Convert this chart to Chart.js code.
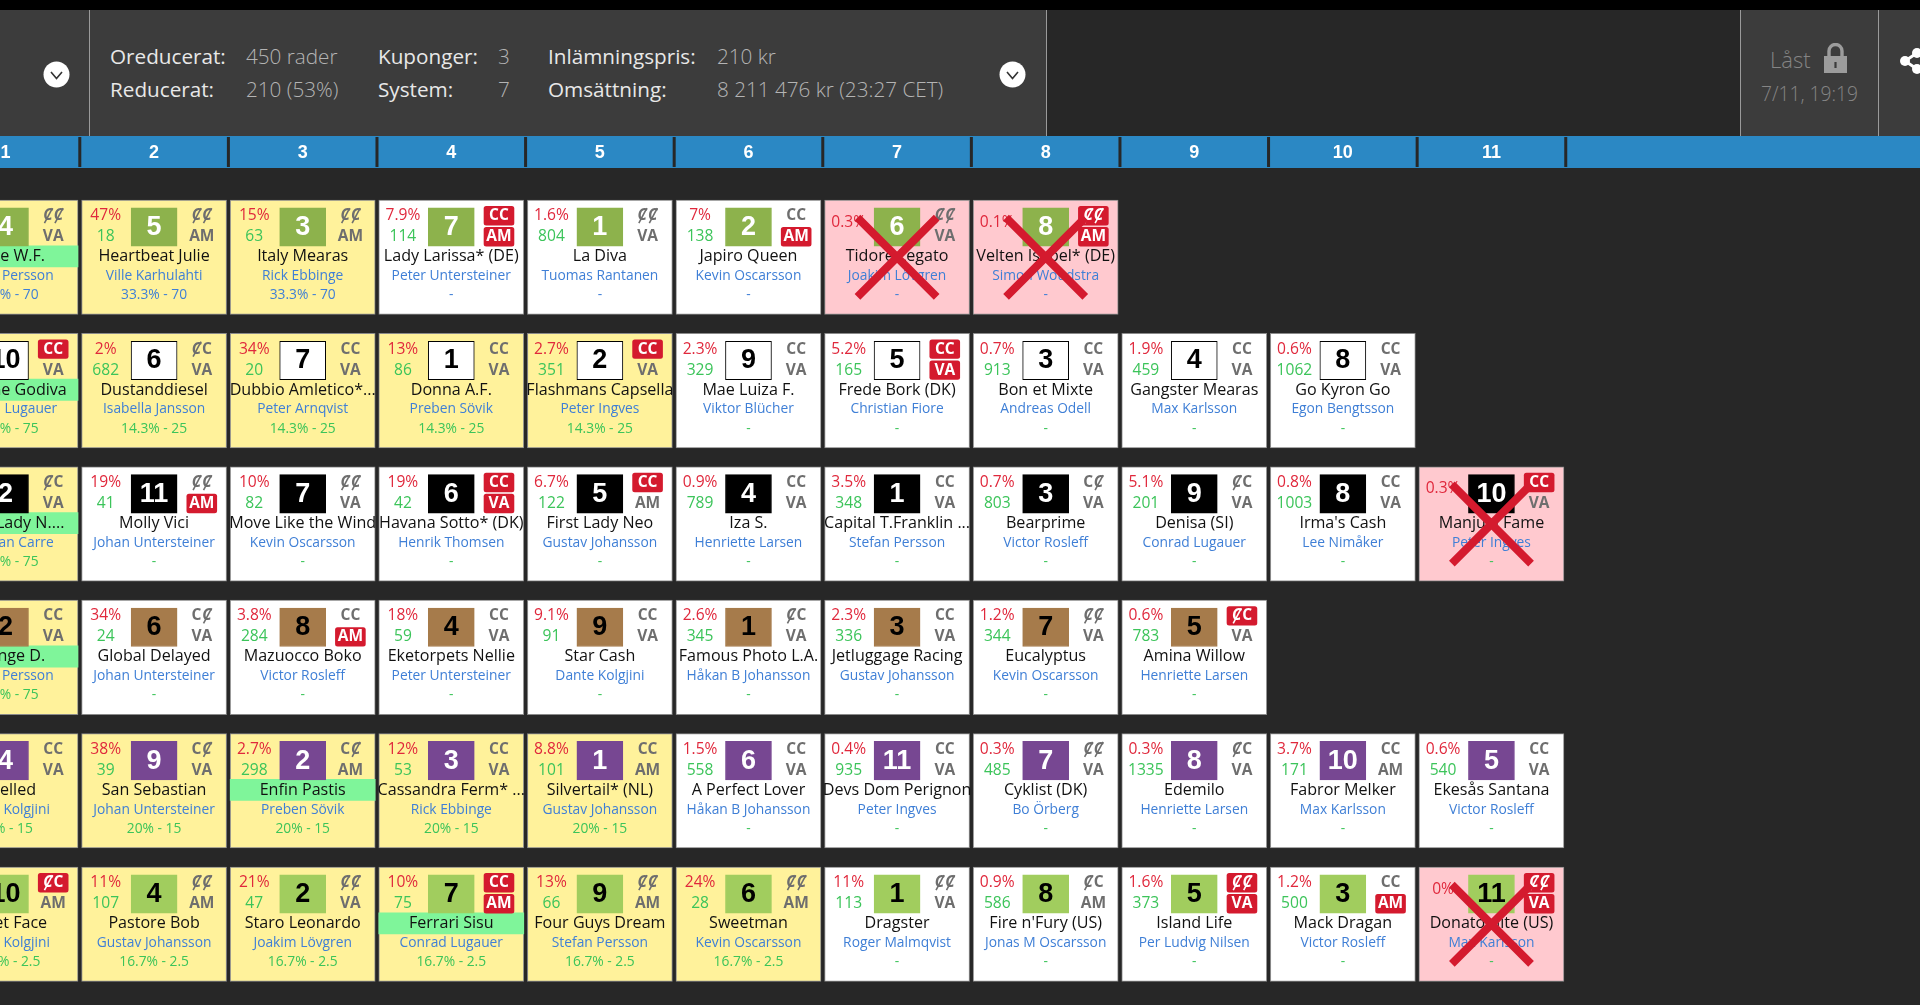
<!DOCTYPE html>
<html lang="sv"><head><meta charset="utf-8"><title>Kupong</title>
<script src="https://cdn.jsdelivr.net/npm/chart.js@4"></script>
<style>
html,body{margin:0;padding:0;background:#272727;width:1920px;height:1005px;overflow:hidden;font-family:"Open Sans",sans-serif}
.abs{position:absolute}
.t{position:absolute;font-size:20.7px;font-weight:300;line-height:26px;white-space:nowrap;transform:translateY(-50%)}
.l{color:#e8e8e8;font-weight:400}.v{color:#b4b4b4}
canvas{position:absolute;left:0;top:0}
</style></head><body>
<div class="abs" style="left:0;top:0;width:1920px;height:10px;background:#000"></div>
<div class="abs" style="left:0;top:10px;width:1046px;height:126px;background:#3c3c3c"></div>
<div class="abs" style="left:1740px;top:10px;width:180px;height:126px;background:#3c3c3c"></div>
<div class="abs" style="left:89px;top:10px;width:1px;height:126px;background:#9a9a9a"></div>
<div class="abs" style="left:1046px;top:10px;width:1px;height:126px;background:#9a9a9a"></div>
<div class="abs" style="left:1740px;top:10px;width:1px;height:126px;background:#9a9a9a"></div>
<div class="abs" style="left:1878px;top:10px;width:1px;height:126px;background:#9a9a9a"></div>
<div class="t l" style="left:110px;top:56px">Oreducerat:</div><div class="t v" style="left:246px;top:56px">450 rader</div>
<div class="t l" style="left:110px;top:89px">Reducerat:</div><div class="t v" style="left:246px;top:89px">210 (53%)</div>
<div class="t l" style="left:378px;top:56px">Kuponger:</div><div class="t v" style="left:498px;top:56px">3</div>
<div class="t l" style="left:378px;top:89px">System:</div><div class="t v" style="left:498px;top:89px">7</div>
<div class="t l" style="left:548px;top:56px">Inlämningspris:</div><div class="t v" style="left:717px;top:56px">210 kr</div>
<div class="t l" style="left:548px;top:89px">Omsättning:</div><div class="t v" style="left:717px;top:89px">8 211 476 kr (23:27 CET)</div>
<div class="t" style="left:1770px;top:59px;color:#858585;font-size:22px">Låst</div>
<div class="t" style="left:1761px;top:94px;color:#858585;font-size:19.2px">7/11, 19:19</div>
<svg class="abs" style="left:43px;top:61px" width="27" height="27" viewBox="0 0 27 27"><circle cx="13.5" cy="13.5" r="13" fill="#fff"/><path d="M8 11l5.5 6.5L19 11" fill="none" stroke="#333" stroke-width="1.6"/></svg>
<svg class="abs" style="left:999px;top:61px" width="27" height="27" viewBox="0 0 27 27"><circle cx="13.5" cy="13.5" r="13" fill="#fff"/><path d="M8 11l5.5 6.5L19 11" fill="none" stroke="#333" stroke-width="1.6"/></svg>
<svg class="abs" style="left:1823px;top:43px" width="25" height="30" viewBox="0 0 25 30"><path d="M6 14V8a6.5 6.5 0 0 1 13 0v6" fill="none" stroke="#9c9c9c" stroke-width="3.4"/><rect x="1" y="13" width="23" height="17" fill="#9c9c9c"/><rect x="11.4" y="19" width="2.2" height="6" fill="#3c3c3c"/></svg>
<svg class="abs" style="left:1899px;top:47px" width="24" height="28" viewBox="0 0 24 28"><path d="M18 6L6 14l12 8" fill="none" stroke="#fff" stroke-width="3"/><circle cx="18" cy="6" r="5" fill="#fff"/><circle cx="6" cy="14" r="5" fill="#fff"/><circle cx="18" cy="22" r="5" fill="#fff"/></svg>
<canvas id="c" width="1920" height="1005" style="width:1920px;height:1005px"></canvas>
<script>
const columnLabels=[1,2,3,4,5,6,7,8,9,10,11];
const horseNumbers=[
[4,5,3,7,1,2,6,8],
[10,6,7,1,2,9,5,3,4,8],
[2,11,7,6,5,4,1,3,9,8,10],
[2,6,8,4,9,1,3,7,5],
[4,9,2,3,1,6,11,7,8,10,5],
[10,4,2,7,9,6,1,8,5,3,11]];
const shares=[
["","47%","15%","7.9%","1.6%","7%","0.3%","0.1%"],
["","2%","34%","13%","2.7%","2.3%","5.2%","0.7%","1.9%","0.6%"],
["","19%","10%","19%","6.7%","0.9%","3.5%","0.7%","5.1%","0.8%","0.3%"],
["","34%","3.8%","18%","9.1%","2.6%","2.3%","1.2%","0.6%"],
["","38%","2.7%","12%","8.8%","1.5%","0.4%","0.3%","0.3%","3.7%","0.6%"],
["","11%","21%","10%","13%","24%","11%","0.9%","1.6%","1.2%","0%"]];
const counts=[
["","18","63","114","804","138","",""],
["","682","20","86","351","329","165","913","459","1062"],
["","41","82","42","122","789","348","803","201","1003",""],
["","24","284","59","91","345","336","344","783"],
["","39","298","53","101","558","935","485","1335","171","540"],
["","107","47","75","66","28","113","586","373","500",""]];
const upperMarks=[
["xx","xx","xx","CC*","xx","CC","xx","xx*"],
["CC*","xC","CC","CC","CC*","CC","CC*","CC","CC","CC"],
["xC","xx","xx","CC*","CC*","CC","CC","Cx","xC","CC","CC*"],
["CC","Cx","CC","CC","CC","xC","CC","xx","xC*"],
["CC","Cx","Cx","CC","CC","CC","CC","xx","xC","CC","CC"],
["xC*","xx","xx","CC*","xx","xx","xx","xC","xx*","CC","xx*"]];
const lowerMarks=[
["VA","AM","AM","AM*","VA","AM*","VA","AM*"],
["VA","VA","VA","VA","VA","VA","VA*","VA","VA","VA"],
["VA","AM*","VA","VA*","AM","VA","VA","VA","VA","VA","VA"],
["VA","VA","AM*","VA","VA","VA","VA","VA","VA"],
["VA","VA","AM","VA","AM","VA","VA","VA","VA","AM","VA"],
["AM","AM","VA","AM*","AM","AM","VA","AM","VA*","AM*","VA*"]];
const horseNames=[
["Resse W.F.","Heartbeat Julie","Italy Mearas","Lady Larissa* (DE)","La Diva","Japiro Queen","Tidore Legato","Velten Isabel* (DE)"],
["Madame Godiva","Dustanddiesel","Dubbio Amletico*...","Donna A.F.","Flashmans Capsella","Mae Luiza F.","Frede Bork (DK)","Bon et Mixte","Gangster Mearas","Go Kyron Go"],
["Sweet Lady N....","Molly Vici","Move Like the Wind","Havana Sotto* (DK)","First Lady Neo","Iza S.","Capital T.Franklin ...","Bearprime","Denisa (SI)","Irma's Cash","Manjula Fame"],
["Solange D.","Global Delayed","Mazuocco Boko","Eketorpets Nellie","Star Cash","Famous Photo L.A.","Jetluggage Racing","Eucalyptus","Amina Willow"],
["Excelled","San Sebastian","Enfin Pastis","Cassandra Ferm* ...","Silvertail* (NL)","A Perfect Lover","Devs Dom Perignon","Cyklist (DK)","Edemilo","Fabror Melker","Ekesås Santana"],
["Sweet Face","Pastore Bob","Staro Leonardo","Ferrari Sisu","Four Guys Dream","Sweetman","Dragster","Fire n'Fury (US)","Island Life","Mack Dragan","Donatomite (US)"]];
const trainers=[
["Stefan Persson","Ville Karhulahti","Rick Ebbinge","Peter Untersteiner","Tuomas Rantanen","Kevin Oscarsson","Joakim Lövgren","Simon Woudstra"],
["Conrad Lugauer","Isabella Jansson","Peter Arnqvist","Preben Sövik","Peter Ingves","Viktor Blücher","Christian Fiore","Andreas Odell","Max Karlsson","Egon Bengtsson"],
["Christian Carre","Johan Untersteiner","Kevin Oscarsson","Henrik Thomsen","Gustav Johansson","Henriette Larsen","Stefan Persson","Victor Rosleff","Conrad Lugauer","Lee Nimåker","Peter Ingves"],
["Stefan Persson","Johan Untersteiner","Victor Rosleff","Peter Untersteiner","Dante Kolgjini","Håkan B Johansson","Gustav Johansson","Kevin Oscarsson","Henriette Larsen"],
["Dante Kolgjini","Johan Untersteiner","Preben Sövik","Rick Ebbinge","Gustav Johansson","Håkan B Johansson","Peter Ingves","Bo Örberg","Henriette Larsen","Max Karlsson","Victor Rosleff"],
["Dante Kolgjini","Gustav Johansson","Joakim Lövgren","Conrad Lugauer","Stefan Persson","Kevin Oscarsson","Roger Malmqvist","Jonas M Oscarsson","Per Ludvig Nilsen","Victor Rosleff","Max Karlsson"]];
const notes=[
["33.3% - 70","33.3% - 70","33.3% - 70","-","-","-","-","-"],
["33.3% - 75","14.3% - 25","14.3% - 25","14.3% - 25","14.3% - 25","-","-","-","-","-"],
["33.3% - 75","-","-","-","-","-","-","-","-","-","-"],
["33.3% - 75","-","-","-","-","-","-","-","-"],
["20% - 15","20% - 15","20% - 15","20% - 15","20% - 15","-","-","-","-","-","-"],
["16.7% - 2.5","16.7% - 2.5","16.7% - 2.5","16.7% - 2.5","16.7% - 2.5","16.7% - 2.5","-","-","-","-","-"]];
/* cell state by column: y picked, w plain, g picked + name band, x struck out */
const cellStates=[
"gyywwwxx".split(""),
"gyyyywwwww".split(""),
"gwwwwwwwwwx".split(""),
"gwwwwwwww".split(""),
"yygyywwwwww".split(""),
"yyygyywwwwx".split("")];
const squareFill=["#8db24c","#ffffff","#000000","#a67b4b","#774792","#a1cd5e"];
const digitFill=["#ffffff","#000000","#ffffff","#000000","#ffffff","#000000"];
const squareEdge=["#8db24c","#000000","#000000","#a67b4b","#774792","#a1cd5e"];
const noteColor=["#3f7fd6","#3cc45a","#3cc45a","#3cc45a","#3cc45a","#3cc45a"];
const stateFill={y:"#fff29b",g:"#fff29b",w:"#ffffff",x:"#ffc9cf"};

const CELL=.429, cells=[],bands=[],squares=[],crosses=[];
horseNumbers.forEach((list,r)=>list.forEach((n,c)=>{
  const row=r+1,col=c+1,s=cellStates[r][c];
  cells.push({x:col,y:[row-CELL,row+CELL],fill:stateFill[s]});
  if(s==="g")bands.push({x:col,y:[row-.086,row+.073]});
  squares.push({x:col,y:[row-.37,row-.082],fill:squareFill[r],edge:squareEdge[r]});
  if(s==="x")crosses.push({x:col,y:row});
}));
const O='"Open Sans",sans-serif', RED="#d41a2e";
function center(ctx,t,x,y,font,color){ctx.font=font;ctx.fillStyle=color;ctx.textAlign="center";ctx.textBaseline="middle";ctx.fillText(t,x,y);}
function badge(ctx,x,y){ctx.fillStyle=RED;ctx.beginPath();ctx.roundRect(x-15.3,y-9.7,30.6,19.4,2.5);ctx.fill();}
function marks(ctx,code,x,y){
  const red=code.endsWith("*"),t=code.replace("*","");
  if(red)badge(ctx,x,y);
  const col=red?"#ffffff":"#6e6e6e";
  if(t[0]!=="x"&&t[1]!=="x"){center(ctx,t,x,y,'700 15.5px '+O,col);return;}
  ctx.font='700 15.5px '+O;
  const w=ctx.measureText("C").width;
  [0,1].forEach(i=>{
    const cx=x+(i-.5)*(w+.6),st=t[i]==="x";
    center(ctx,"C",cx,y,(st?'italic ':'')+'700 15.5px '+O,col);
    if(st){ctx.strokeStyle=col;ctx.lineWidth=1.6;ctx.beginPath();ctx.moveTo(cx-3.5,y+7.5);ctx.lineTo(cx+4.5,y-7.5);ctx.stroke();}
  });
}
const furniture={id:"furniture",beforeDraw(ch){
  const {ctx,scales:{x}}=ch;
  ctx.fillStyle="#2b88c4";ctx.fillRect(0,136,1920,32);
  ctx.fillStyle="#272727";
  columnLabels.forEach(c=>ctx.fillRect(x.getPixelForValue(c+.5)-1.5,137,3,30));
}};
const cellText={id:"cellText",beforeDatasetDraw(ch,args){
  if(args.index!==3)return;
  const {ctx,scales:{x,y}}=ch;
  horseNumbers.forEach((list,r)=>list.forEach((n,c)=>{
    const px=x.getPixelForValue(c+1),py=y.getPixelForValue(r+1),st=cellStates[r][c];
    const top=py-41.5,low=py-20.5;
    if(shares[r][c])center(ctx,shares[r][c],px-48.4,st==="x"?py-35:top,'400 15.6px '+O,"#e0283c");
    if(counts[r][c])center(ctx,counts[r][c],px-48.4,low,'400 15.6px '+O,"#3cc45a");
    center(ctx,String(n),px,py-29.7,'700 27px "Liberation Sans"',digitFill[r]);
    marks(ctx,upperMarks[r][c],px+47.7,top);
    marks(ctx,lowerMarks[r][c],px+47.7,low);
    center(ctx,horseNames[r][c],px,py-.6,'500 16.1px '+O,"#111111");
    center(ctx,trainers[r][c],px,py+18.8,'500 13.8px '+O,"#3f7fd6");
    center(ctx,notes[r][c],px,py+38,'500 13.8px '+O,noteColor[r]);
  }));
}};
new Chart(document.getElementById("c"),{
  type:"bar",
  data:{datasets:[
    {label:"Cells",data:cells,order:4,grouped:false,barThickness:145,borderWidth:1,borderColor:"#8a8a8a",borderSkipped:false,backgroundColor:c=>c.raw?c.raw.fill:"#fff"},
    {label:"Name band",data:bands,order:3,grouped:false,barThickness:145,borderWidth:0,backgroundColor:"#7ff59a"},
    {label:"Numbers",data:squares,order:2,grouped:false,barThickness:46,borderWidth:1,borderSkipped:false,backgroundColor:c=>c.raw?c.raw.fill:"#000",borderColor:c=>c.raw?c.raw.edge:"#000"},
    {type:"scatter",label:"Struck",data:crosses,order:1,pointStyle:"crossRot",pointRadius:56,pointHoverRadius:56,pointBorderWidth:8,pointBorderColor:RED,pointBackgroundColor:RED}
  ]},
  options:{
    responsive:false,animation:false,devicePixelRatio:1,
    layout:{autoPadding:false,padding:{top:136,left:0,right:0,bottom:0}},
    plugins:{legend:{display:false},tooltip:{enabled:false},title:{display:false}},
    scales:{
      x:{type:"linear",position:"top",min:.963,max:13.884,offset:false,
        grid:{display:false,drawTicks:false},border:{display:false},
        afterFit:s=>{s.height=32;s.paddingLeft=0;s.paddingRight=0;s.paddingTop=0;s.paddingBottom=0;},
        afterBuildTicks:s=>{s.ticks=columnLabels.map(v=>({value:v}));},
        ticks:{color:"#ffffff",padding:4,autoSkip:false,maxRotation:0,font:{family:"Liberation Sans",weight:"bold",size:18}}},
      y:{type:"linear",display:false,reverse:true,min:.3313,max:6.6057}
    }
  },
  plugins:[furniture,cellText]
});
</script>
</body></html>
